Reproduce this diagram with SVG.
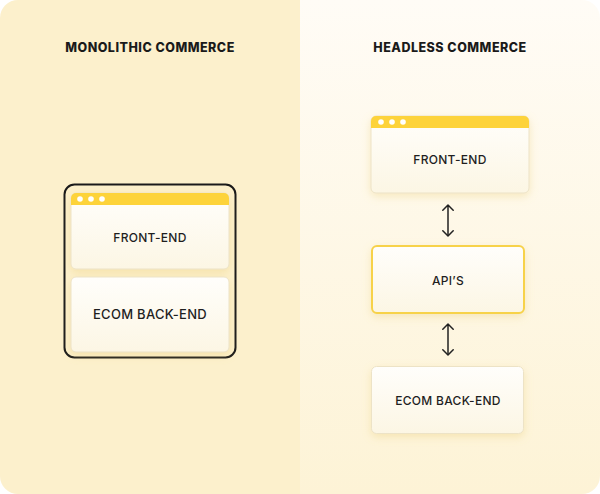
<svg xmlns="http://www.w3.org/2000/svg" width="600" height="494" viewBox="0 0 600 494">
<defs>
<linearGradient id="rightBg" x1="0" y1="0" x2="0" y2="1">
<stop offset="0" stop-color="#FFFCF6"/>
<stop offset="1" stop-color="#FDF3D6"/>
</linearGradient>
<linearGradient id="card" x1="0" y1="0" x2="0" y2="1">
<stop offset="0" stop-color="#FFFEFB"/>
<stop offset="1" stop-color="#FCF6E4"/>
</linearGradient>
<filter id="sh" x="-20%" y="-20%" width="140%" height="150%">
<feDropShadow dx="0" dy="3" stdDeviation="4" flood-color="#E8C96A" flood-opacity="0.35"/>
</filter>
<clipPath id="bgclip"><rect x="0" y="0" width="600" height="494" rx="18"/></clipPath>
<marker id="ah" viewBox="0 0 12 12" refX="6" refY="6" markerWidth="12" markerHeight="12" markerUnits="userSpaceOnUse" orient="auto-start-reverse">
<path d="M0.8,0.8 L6,6 L0.8,11.2" fill="none" stroke="#222" stroke-width="1.5" stroke-linecap="round" stroke-linejoin="round"/>
</marker>
<style>
.title{font-family:Inter,"Noto Sans","DejaVu Sans",sans-serif;font-weight:800;font-size:12.5px;fill:#1a1a1a;letter-spacing:0.5px;text-anchor:middle}
.lbl{font-family:Inter,"Noto Sans","DejaVu Sans",sans-serif;font-weight:500;font-size:12px;fill:#1f1f1f;letter-spacing:0.3px;text-anchor:middle;dominant-baseline:central}
.card{fill:url(#card);stroke:#EDE3C6;stroke-width:1}
.bar{fill:#FDD33A}
.dot{fill:#fff}
.conn{stroke:#222;stroke-width:1.5;fill:none}
</style>
</defs>
<g id="background" clip-path="url(#bgclip)">
<rect x="0" y="0" width="300" height="494" fill="#FCF0CC"/>
<rect x="300" y="0" width="300" height="494" fill="url(#rightBg)"/>
</g>
<text class="title" x="150" y="52">MONOLITHIC COMMERCE</text>
<text class="title" x="450" y="52">HEADLESS COMMERCE</text>
<g id="monolith">
<rect x="64.5" y="184.5" width="171" height="173" rx="10" fill="#FCF0CC" stroke="#1a1a1a" stroke-width="2"/>
<g id="mono-frontend">
<rect class="card" x="71" y="193" width="158" height="76" rx="5" filter="url(#sh)"/>
<path class="bar" d="M71,205 V198 a5,5 0 0 1 5,-5 H224 a5,5 0 0 1 5,5 V205 Z"/>
<circle class="dot" cx="80" cy="199" r="2.8"/>
<circle class="dot" cx="91" cy="199" r="2.8"/>
<circle class="dot" cx="102" cy="199" r="2.8"/>
<text class="lbl" x="150" y="237">FRONT-END</text>
</g>
<g id="mono-backend">
<rect class="card" x="71" y="277" width="158" height="75" rx="5" filter="url(#sh)"/>
<text class="lbl" x="150" y="314" style="font-size:13px">ECOM BACK-END</text>
</g>
</g>
<g id="head-frontend">
<rect class="card" x="371" y="116" width="158" height="77" rx="5" filter="url(#sh)"/>
<path class="bar" d="M371,128 V121 a5,5 0 0 1 5,-5 H524 a5,5 0 0 1 5,5 V128 Z"/>
<circle class="dot" cx="381" cy="122" r="2.8"/>
<circle class="dot" cx="392" cy="122" r="2.8"/>
<circle class="dot" cx="403" cy="122" r="2.8"/>
<text class="lbl" x="450" y="159">FRONT-END</text>
</g>
<g id="head-api">
<rect x="372" y="246" width="152" height="67" rx="5" fill="url(#card)" stroke="#F7D24A" stroke-width="2" filter="url(#sh)"/>
<text class="lbl" x="448" y="280">API’S</text>
</g>
<g id="head-backend">
<rect class="card" x="371.5" y="366.5" width="152" height="67" rx="5" filter="url(#sh)"/>
<text class="lbl" x="448" y="400">ECOM BACK-END</text>
</g>
<g id="connectors">
<line class="conn" x1="448" y1="205" x2="448" y2="236" marker-start="url(#ah)" marker-end="url(#ah)"/>
<line class="conn" x1="448" y1="324" x2="448" y2="355" marker-start="url(#ah)" marker-end="url(#ah)"/>
</g>
</svg>
